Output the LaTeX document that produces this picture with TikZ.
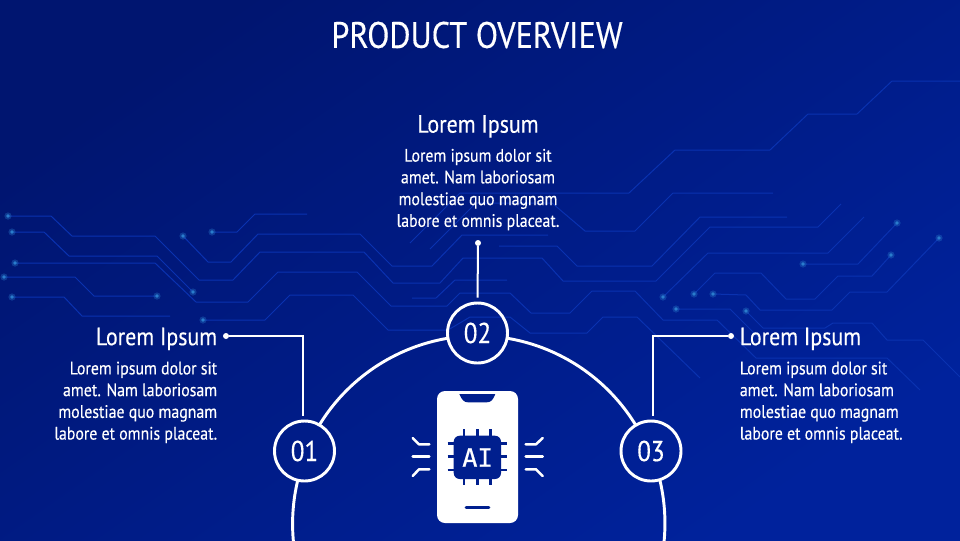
\documentclass[tikz,border=0pt]{standalone}
\usepackage{fontspec}
\setmainfont[FakeStretch=0.88,FakeBold=0.35]{PT Sans}
\newfontfamily\chipfont[FakeBold=0.7]{DejaVu Sans Mono}
\usetikzlibrary{positioning}
\definecolor{bgdark}{HTML}{001570}
\definecolor{bglight}{HTML}{00229C}
\definecolor{tracecol}{HTML}{0A32B0}
\definecolor{padcol}{HTML}{2A7CCC}
\definecolor{chipcol}{HTML}{001F8E}
\tikzstyle{trace}=[
	draw=tracecol,
	line width=0.75pt,
	line join=round
]
\tikzstyle{ring}=[
	draw=white,
	line width=2.2pt
]
\tikzstyle{leader}=[
	draw=white,
	line width=1.5pt
]
\tikzstyle{numnode}=[
	circle,
	draw=white,
	line width=2.2pt,
	minimum size=45pt,
	inner sep=0pt,
	outer sep=0pt,
	text=white,
	font=\fontsize{21.5}{22}\selectfont
]
\tikzstyle{tip}=[
	circle,
	fill=white,
	minimum size=4.5pt,
	inner sep=0pt,
	outer sep=0pt
]
\tikzstyle{headline}=[
	text=white,
	inner sep=0pt,
	font=\fontsize{18.7}{20}\selectfont
]
\tikzstyle{blurb}=[
	text=white,
	inner sep=0pt,
	font=\fontsize{13.5}{16.3}\selectfont
]
\tikzstyle{pin}=[
	draw=chipcol,
	line width=2pt
]
\tikzstyle{spark}=[
	draw=white,
	line width=1.9pt,
	line cap=round,
	line join=round
]

\begin{document}
\begin{tikzpicture}[x=0.75pt,y=-0.75pt]
\useasboundingbox (0,0) rectangle (960,540);
\shade[top color=bgdark,bottom color=bglight,shading angle=35] (0,0) rectangle (960,540);

% board traces
\draw[trace] (8,216) -- (51,216) -- (72,236) -- (155,236) -- (199,280) -- (233,280) -- (260,252) -- (364,252) -- (393,283) -- (440,283) -- (463,258) -- (542,258) -- (563,281) -- (656,281) -- (710,227) -- (818,227) -- (841,204);
\draw[trace] (12,232) -- (44,232) -- (69,256) -- (157,256) -- (193,292);
\draw[trace] (15,263) -- (155,263) -- (196,302) -- (248,302) -- (278,272) -- (357,272) -- (391,306) -- (447,306) -- (460,293) -- (510,293) -- (531,313) -- (570,313) -- (592,291) -- (635,291) -- (663,320) -- (717,320) -- (756,358) -- (887,358) -- (920,390);
\draw[trace] (4,277) -- (75,277) -- (94,296) -- (157,296);
\draw[trace] (12,297) -- (64,297) -- (82,316) -- (170,316);
\draw[trace] (212,232) -- (237,232) -- (255,214) -- (307,214);
\draw[trace] (183,236) -- (208,262) -- (231,262) -- (258,234) -- (360,234) -- (392,266) -- (432,266) -- (462,235) -- (548,235);
\draw[trace] (203,320) -- (265,320) -- (290,295) -- (353,295) -- (388,330) -- (448,330) -- (470,317) -- (510,317) -- (530,333) -- (587,333) -- (603,317) -- (637,317) -- (700,378);
\draw[trace] (412,298) -- (436,298) -- (455,280) -- (507,280);
\draw[trace] (499,246) -- (557,246) -- (577,266) -- (652,266) -- (700,217) -- (787,217);
\draw[trace] (430,249) -- (476,203) -- (552,203) -- (585,231) -- (635,231) -- (673,193) -- (773,193);
\draw[trace] (410,243) -- (460,193) -- (629,193) -- (675,150) -- (770,150) -- (808,114) -- (857,114) -- (892,81) -- (960,81);
\draw[trace] (663,297) -- (708,253) -- (828,253) -- (864,217);
\draw[trace] (694,294) -- (715,273) -- (761,273) -- (786,299) -- (815,299) -- (838,276) -- (872,276) -- (891,255);
\draw[trace] (713,294) -- (746,295) -- (760,310) -- (832,310) -- (850,292) -- (887,292) -- (939,238);
\draw[trace] (803,264) -- (858,264) -- (897,223);
\draw[trace] (676,309) -- (730,309) -- (760,339);
\draw[trace] (746,311) -- (763,328) -- (825,328) -- (833,323) -- (872,323) -- (887,340) -- (923,340) -- (960,377);

\foreach \x/\y in {8/216,12/232,15/263,4/277,12/297,183/236,212/232,193/292,157/296,203/320,663/297,694/294,713/294,676/309,746/311,803/264,891/255,897/223,939/238} {
	\fill[padcol,opacity=0.35] (\x,\y) circle (3.6);
	\fill[padcol] (\x,\y) circle (1.9);
}

% numbered circles
\node[numnode] (c1) at (304.5,451) {01};
\node[numnode] (c2) at (477.5,333) {02};
\node[numnode] (c3) at (651,451) {03};

\draw[ring] (c2.190) arc[start angle=-99.5,end angle=-148.7,radius=187];
\draw[ring] (c2.-10) arc[start angle=-80.5,end angle=-31.3,radius=187];
\draw[ring] (c1.257) arc[start angle=-166.5,end angle=-186,radius=187];
\draw[ring] (c3.-73) arc[start angle=-13.5,end angle=6,radius=187];

% labels
\node[tip] (d1) at (226,336) {};
\node[tip] (d2) at (478,243) {};
\node[tip] (d3) at (731,336) {};

\draw[leader,shorten >=4pt] (d1) -| ([xshift=-0.8pt]c1.north);
\draw[leader,shorten >=4pt] (d2) -- (c2.north);
\draw[leader,shorten >=4pt] (d3) -| ([xshift=1.5pt]c3.north);

\node[headline, left=4.2pt of d1, yshift=-2.2pt] (h1) {Lorem Ipsum};
\node[blurb, align=right, below left=8.2pt and 0pt of h1.south east] (t1) {Lorem ipsum dolor sit\\amet. Nam laboriosam\\molestiae quo magnam\\labore et omnis placeat.};

\node[blurb, align=center, above=7pt of d2] (t2) {Lorem ipsum dolor sit\\amet. Nam laboriosam\\molestiae quo magnam\\labore et omnis placeat.};
\node[headline, above=8pt of t2] (h2) {Lorem Ipsum};

\node[headline, right=4.2pt of d3, yshift=-2.2pt] (h3) {Lorem Ipsum};
\node[blurb, align=left, below right=8.2pt and 0pt of h3.south west] (t3) {Lorem ipsum dolor sit\\amet. Nam laboriosam\\molestiae quo magnam\\labore et omnis placeat.};

\node[text=white, font=\fontsize{27.6}{30}\selectfont] (title) at (477,35) {PRODUCT OVERVIEW};

% phone
\fill[white,rounded corners=6pt] (437,391) rectangle (518,523);
\fill[chipcol] (459.3,394) .. controls (462,400) and (464,402.3) .. (468,402.3) -- (486.7,402.3) .. controls (491,402.3) and (493,400) .. (495.3,394) -- cycle;
\foreach \x in {464,477.3,490.7} {
	\draw[pin] (\x,429.3) -- (\x,485);
}
\foreach \y in {443.3,456.7,470} {
	\draw[pin] (447.7,\y) -- (507.3,\y);
}
\fill[chipcol,rounded corners=4.5pt] (453.7,435.7) rectangle (501,479);
\node[text=white, inner sep=0pt, font=\chipfont\fontsize{19}{20}\selectfont] (ai) at (477.5,457.5) {AI};
\draw[pin,line cap=round] (466,507.7) -- (489,507.7);

\draw[spark] (412.7,438) -- (419,444.3) -- (429.3,444.3);
\draw[spark] (412.7,456.3) -- (429.3,456.3);
\draw[spark] (412.7,476) -- (419,469.3) -- (429.3,469.3);
\draw[spark] (542.7,438) -- (536,444.3) -- (525.7,444.3);
\draw[spark] (542.7,456.3) -- (525.7,456.3);
\draw[spark] (542.7,476) -- (536,469.3) -- (525.7,469.3);
\end{tikzpicture}
\end{document}
